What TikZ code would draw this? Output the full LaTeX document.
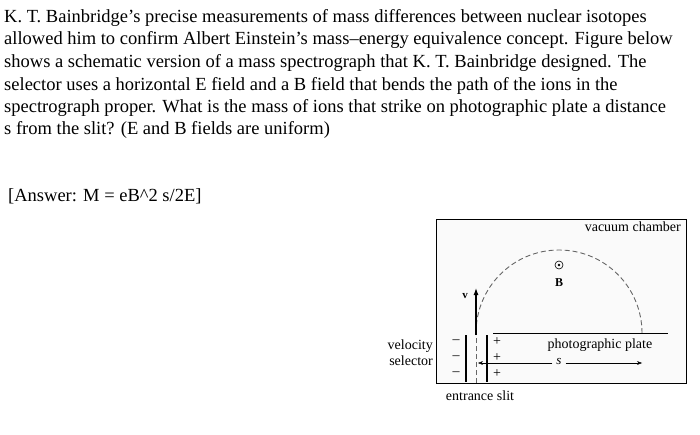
\documentclass[tikz,border=0pt]{standalone}
\usepackage{fontspec}
\setmainfont{Liberation Serif}
\usetikzlibrary{arrows.meta}
\begin{document}
\begin{tikzpicture}[x=1pt,y=-1pt,
 body/.style={anchor=west,inner sep=0,font=\fontsize{18.5}{21}\selectfont},
 lab/.style={inner sep=0,font=\fontsize{14}{16}\selectfont},
 path/.style={dash pattern=on 5pt off 3pt,line width=0.9pt,gray!80!black},
 plate/.style={line width=2pt}]
\useasboundingbox[fill=white] (0,0) rectangle (700,435);
\node[body] (l1) at (4,18) {K. T. Bainbridge’s precise measurements of mass differences between nuclear isotopes};
\node[body] (l2) at (4,40) {allowed him to confirm Albert Einstein's mass–energy equivalence concept. Figure below};
\node[body] (l3) at (4,63) {shows a schematic version of a mass spectrograph that K. T. Bainbridge designed. The};
\node[body] (l4) at (4,86) {selector uses a horizontal E field and a B field that bends the path of the ions in the};
\node[body] (l5) at (4,108) {spectrograph proper. What is the mass of ions that strike on photographic plate a distance};
\node[body] (l6) at (4,130) {s from the slit? (E and B fields are uniform)};
\node[body] (ans) at (8,196) {[Answer: M = eB\string^2 s/2E]};
% diagram
\draw[line width=0.8pt,fill=gray!4] (436,219) rectangle (686,383);
\node[lab,anchor=north east] (vc) at (681,222) {vacuum chamber};
\draw[plate] (466,335) -- (466,382);
\draw[plate] (487,335) -- (487,382);
\draw[path] (476,383) -- (476,333);
\draw[path] (476,333) arc[start angle=180,end angle=360,radius=83];
\draw[line width=1pt] (493,333) -- (668,333);
\draw[line width=1.2pt,-{Latex[length=7pt,width=5pt]}] (476,335) -- (476,288);
\node[lab,font=\bfseries\fontsize{11}{12}\selectfont] (v) at (465,296) {v};
\draw[line width=0.6pt] (559,265) circle (4pt);
\fill (559,265) circle (1.3pt);
\node[lab,font=\bfseries\fontsize{12}{14}\selectfont] (B) at (559,283) {B};
\foreach \yy in {342,358,374}{
 \node[lab] at (456,\yy) {--};
 \node[lab] at (497,\yy) {+};}
\node[lab] (pp) at (600,345) {photographic plate};
\node[lab,font=\itshape\fontsize{13}{14}\selectfont] (s) at (559,361) {s};
\draw[line width=0.4pt,-{Stealth[length=5pt]}] (s.west)++(-4,2) -- (478,363);
\draw[line width=0.4pt,-{Stealth[length=5pt]}] (s.east)++(4,2) -- (642,363);
\node[lab,anchor=east,align=right] (vs) at (433,353) {velocity\\selector};
\node[lab] (es) at (480,396) {entrance slit};
\end{tikzpicture}
\end{document}
